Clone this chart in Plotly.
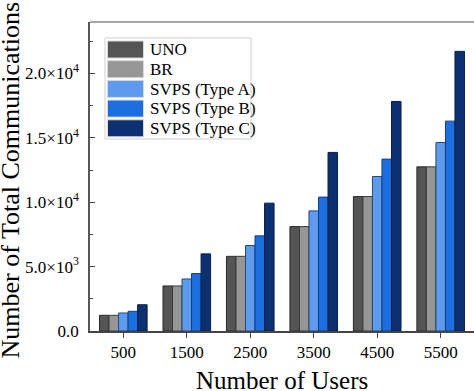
import plotly.graph_objects as go

users = ["500", "1500", "2500", "3500", "4500", "5500"]
series_names = ["UNO", "BR", "SVPS (Type A)", "SVPS (Type B)", "SVPS (Type C)"]
uno = [1220, 3500, 5800, 8110, 10440, 12750]
br = [1220, 3500, 5800, 8110, 10440, 12750]
svps_a = [1400, 4040, 6640, 9330, 12000, 14640]
svps_b = [1530, 4460, 7390, 10400, 13350, 16300]
svps_c = [2040, 5990, 9930, 13870, 17830, 21720]
ytick_vals = [0, 5000, 10000, 15000, 20000]
ytick_text = ["0.0", "5.0×10<sup>3</sup>", "1.0×10<sup>4</sup>", "1.5×10<sup>4</sup>", "2.0×10<sup>4</sup>"]
x_title = "Number of Users"
y_title = "Number of Total Communications"

colors = ["#555555", "#969696", "#5e9bec", "#1d6fe0", "#0d3170"]
outlines = ["#2a2a2a", "#3a3a3a", "#24497a", "#123f80", "#0a1f45"]
values = [uno, br, svps_a, svps_b, svps_c]

FONT = "Liberation Serif"
fig = go.Figure()
for name, vals, c, oc in zip(series_names, values, colors, outlines):
    fig.add_trace(go.Bar(x=users, y=vals, name=name, marker=dict(color=c, line=dict(color=oc, width=1)),
                         showlegend=False))

W, H = 474, 391
L, T, R, B = 90, 22, 0, 60
pw, ph = W - L - R, H - T - B

def px(x):
    return (x - L) / pw

def py(y):
    return (H - B - y) / ph

shapes = []
annotations = []
# legend box
shapes.append(dict(type="rect", xref="paper", yref="paper", x0=px(105), x1=px(251), y0=py(139), y1=py(38),
                   line=dict(color="#cfcfcf", width=1), fillcolor="white", layer="above"))
for i, (name, c) in enumerate(zip(series_names, colors)):
    top = 41 + i * 19.7
    shapes.append(dict(type="rect", xref="paper", yref="paper", x0=px(107.5), x1=px(143.5),
                       y0=py(top + 17), y1=py(top), fillcolor=c, line=dict(color="#d8d8d8", width=1), layer="above"))
    annotations.append(dict(xref="paper", yref="paper", x=px(148), y=py(top + 8.8), text=name, showarrow=False,
                            xanchor="left", yanchor="middle", font=dict(family=FONT, size=17, color="black")))
# top border
shapes.append(dict(type="line", xref="paper", yref="paper", x0=0, x1=1, y0=1, y1=1,
                   line=dict(color="#8a8a8a", width=1.5)))
# axis titles
annotations.append(dict(xref="paper", yref="paper", x=0.5, y=py(365), text=x_title, showarrow=False,
                        xanchor="center", yanchor="top", font=dict(family=FONT, size=25, color="black")))
annotations.append(dict(xref="paper", yref="paper", x=px(-6), y=py(180), text=y_title, showarrow=False,
                        textangle=-90, xanchor="left", yanchor="middle",
                        font=dict(family=FONT, size=26, color="black")))

fig.update_layout(
    width=W, height=H, margin=dict(l=L, r=R, t=T, b=B, autoexpand=False),
    paper_bgcolor="white", plot_bgcolor="white",
    barmode="group", bargap=0.25, bargroupgap=0,
    font=dict(family=FONT, size=17, color="black"),
    shapes=shapes, annotations=annotations,
    xaxis=dict(type="category", range=[-0.525, 5.525], showline=True, linecolor="#444444", linewidth=1.5,
               ticks="outside", ticklen=5, tickcolor="#444444", showgrid=False, automargin=False,
               tickfont=dict(family=FONT, size=17)),
    yaxis=dict(range=[0, 24000], showline=True, linecolor="#555555", linewidth=1.5, automargin=False,
               tickmode="array", tickvals=ytick_vals, ticktext=ytick_text,
               ticks="inside", ticklen=5, tickcolor="#444444", showgrid=False, zeroline=False,
               ticklabelstandoff=6,
               minor=dict(ticks="inside", ticklen=3, dtick=2500, tick0=0, tickcolor="#444444", showgrid=False),
               tickfont=dict(family=FONT, size=17)),
)
fig.write_html("out.html", config={"displayModeBar": False},
               post_script="document.body.style.margin='0';document.body.style.overflow='hidden';")
